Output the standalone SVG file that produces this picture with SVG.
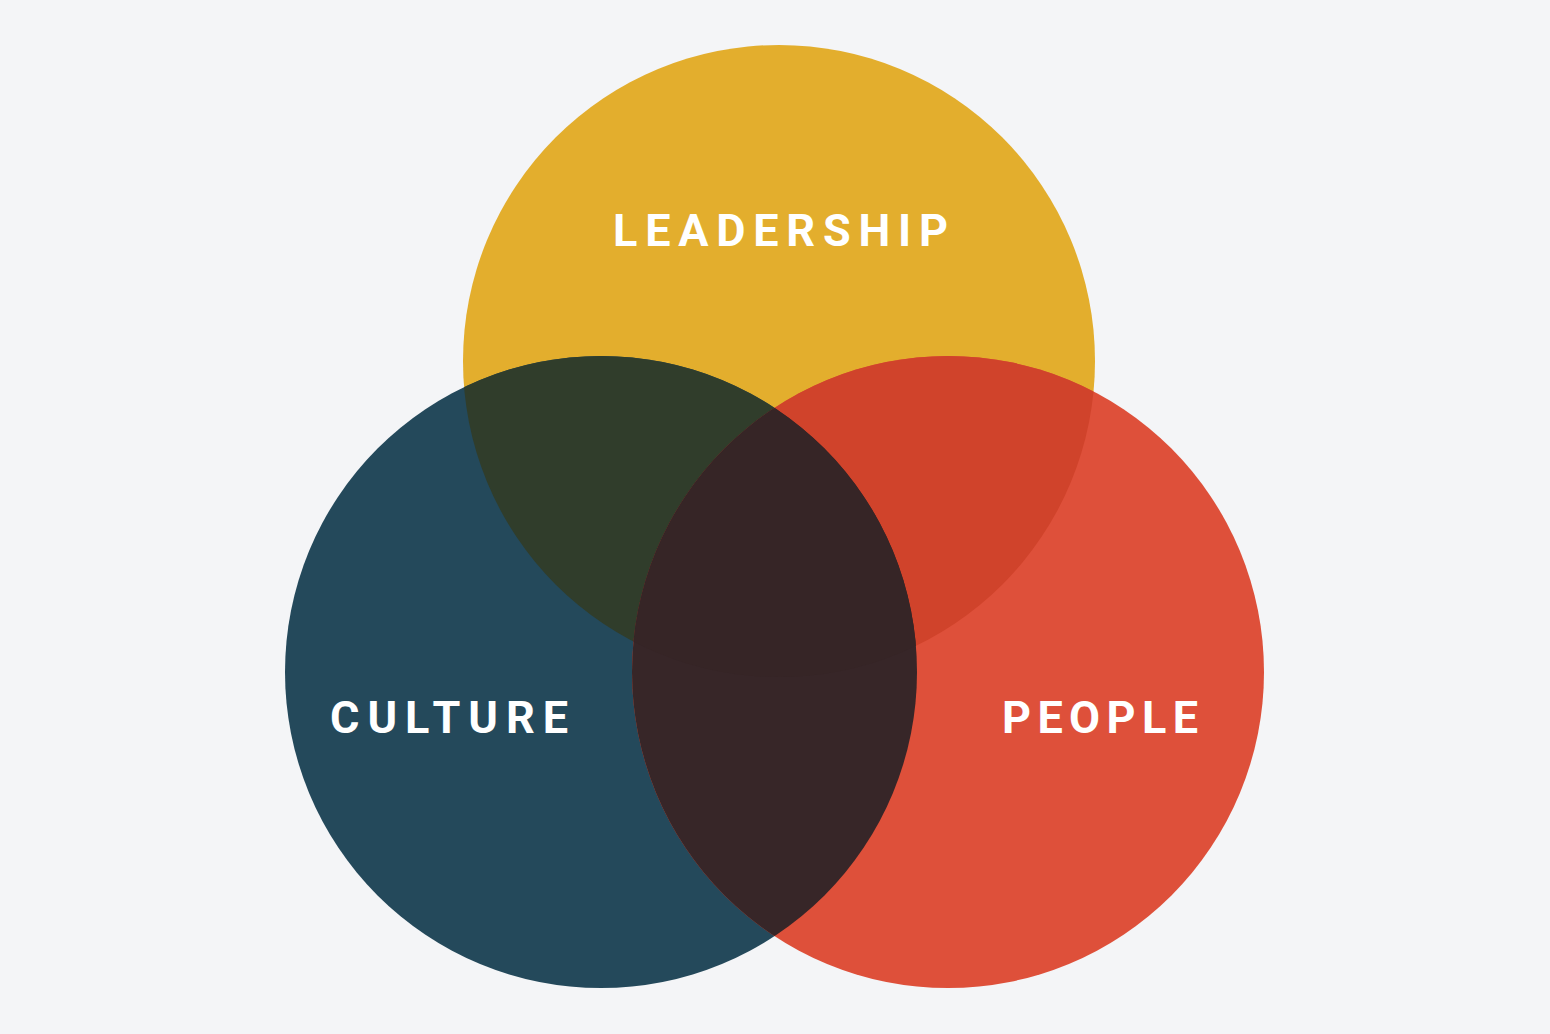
<svg xmlns="http://www.w3.org/2000/svg" width="1550" height="1034" viewBox="0 0 1550 1034">
  <style>
    .lbl { font-family: Roboto, "Liberation Sans", Arial, sans-serif; font-weight: bold; font-size: 45px; fill: #ffffff; }
  </style>
  <defs>
    <clipPath id="clipBlue"><circle cx="601" cy="672" r="316"/></clipPath>
    <clipPath id="clipRed"><circle cx="948" cy="672" r="316"/></clipPath>
    <clipPath id="clipYellow"><circle cx="779" cy="361" r="316"/></clipPath>
  </defs>
  <rect width="1550" height="1034" fill="#F4F5F7"/>
  <g id="leadership">
    <circle cx="779" cy="361" r="316" fill="#E3AE2D"/>
  </g>
  <g id="culture">
    <circle cx="601" cy="672" r="316" fill="#24495B"/>
  </g>
  <g id="people">
    <circle cx="948" cy="672" r="316" fill="#DE503A"/>
  </g>
  <g id="overlaps">
    <circle cx="779" cy="361" r="316" fill="#303D2B" clip-path="url(#clipBlue)"/>
    <circle cx="779" cy="361" r="316" fill="#D0432B" clip-path="url(#clipRed)"/>
    <g clip-path="url(#clipBlue)">
      <circle cx="948" cy="672" r="316" fill="#372628"/>
      <circle cx="948" cy="672" r="316" fill="#362526" clip-path="url(#clipYellow)"/>
    </g>
  </g>
  <g id="labels">
    <text class="lbl" x="613" y="246" textLength="335" lengthAdjust="spacing">LEADERSHIP</text>
    <text class="lbl" x="330" y="733" textLength="238" lengthAdjust="spacing">CULTURE</text>
    <text class="lbl" x="1002" y="733" textLength="196" lengthAdjust="spacing">PEOPLE</text>
  </g>
</svg>
